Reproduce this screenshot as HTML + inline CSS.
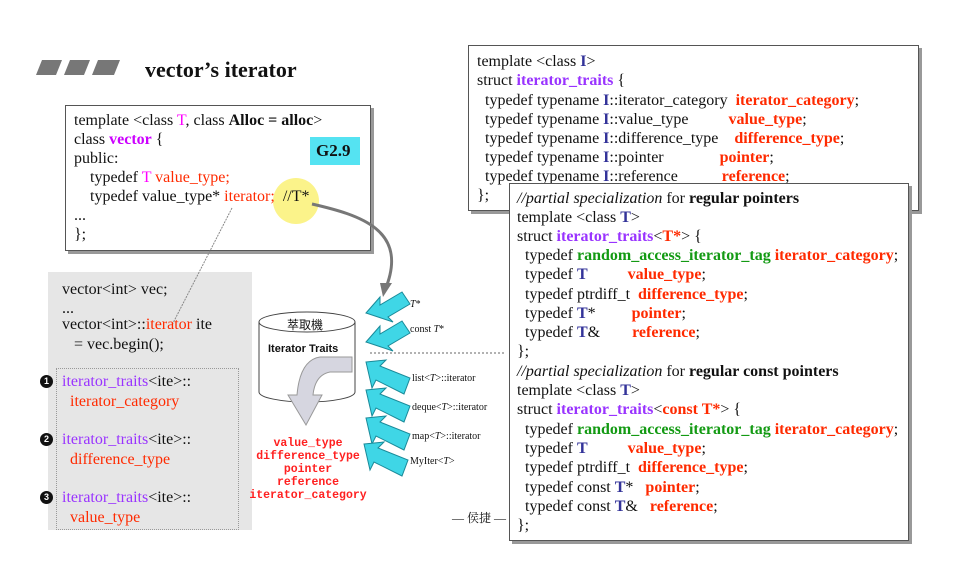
<!DOCTYPE html>
<html><head><meta charset="utf-8"><style>
body{margin:0;width:969px;height:575px;background:#fff;position:relative;overflow:hidden;font-family:"Liberation Serif",serif;font-size:16px;color:#111}
.a{position:absolute;white-space:pre;line-height:18px}
.box{position:absolute;border:1.5px solid #555;background:#fff;box-shadow:3px 3px 0 #999}
.p{color:#9933ff;font-weight:bold}.r{color:#ff2a00;font-weight:bold}.rn{color:#ff2a00}.b{color:#333399;font-weight:bold}.g{color:#139a13;font-weight:bold}.m{color:#ff00ff}.pu{color:#cc00ff;font-weight:bold}
.mono{font-family:"Liberation Mono",monospace;font-weight:bold;color:#ff2020;font-size:11.5px;line-height:13px;text-align:center}
.bul{display:inline-block;width:13px;height:13px;border-radius:50%;background:#111;color:#fff;font:bold 9px "Liberation Sans",sans-serif;text-align:center;line-height:13px;position:absolute}
</style></head><body>
<svg style="position:absolute;left:0;top:0" width="969" height="575">
<polygon points="42,60 62,60 56,75 36,75" fill="#777"/><polygon points="70,60 90,60 84,75 64,75" fill="#777"/><polygon points="98,60 120,60 114,75 92,75" fill="#777"/>
</svg>
<div class="a" style="left:145px;top:57px;font-size:22px;font-weight:bold;line-height:26px">vector’s iterator</div>

<div class="box" style="left:65px;top:105px;width:304px;height:144px"></div>
<div style="position:absolute;left:310px;top:137px;width:50px;height:28px;background:#55e3f2"></div>
<div class="a" style="left:316px;top:142px;font-size:17px;font-weight:bold">G2.9</div>
<div style="position:absolute;left:273px;top:178px;width:46px;height:46px;border-radius:50%;background:#fbf38a"></div>
<div class="a" style="left:74px;top:112px">template &lt;class <span class="m">T</span>, class <b>Alloc = alloc</b>&gt;</div>
<div class="a" style="left:74px;top:131px">class <span class="pu">vector</span> {</div>
<div class="a" style="left:74px;top:150px">public:</div>
<div class="a" style="left:90px;top:169px">typedef <span class="m">T</span> <span class="rn">value_type;</span></div>
<div class="a" style="left:90px;top:188px">typedef value_type* <span class="rn">iterator;</span>  //T*</div>
<div class="a" style="left:74px;top:207px">...</div>
<div class="a" style="left:74px;top:226px">};</div>

<div style="position:absolute;left:48px;top:272px;width:204px;height:258px;background:#e6e6e6"></div>
<div style="position:absolute;left:56px;top:368px;width:181px;height:160px;border:1px dotted #999"></div>
<svg style="position:absolute;left:0;top:0" width="969" height="575">
<line x1="232" y1="208" x2="172" y2="325" stroke="#888" stroke-width="1" stroke-dasharray="2,1"/>
</svg>
<div class="a" style="left:62px;top:281px">vector&lt;int&gt; vec;</div>
<div class="a" style="left:62px;top:300px">...</div>
<div class="a" style="left:62px;top:316px">vector&lt;int&gt;::<span class="rn">iterator</span> ite</div>
<div class="a" style="left:74px;top:336px">= vec.begin();</div>
<span class="bul" style="left:40px;top:375px">1</span><span class="bul" style="left:40px;top:433px">2</span><span class="bul" style="left:40px;top:491px">3</span>
<div class="a" style="left:62px;top:373px"><span style="color:#9933ff">iterator_traits</span>&lt;ite&gt;::</div>
<div class="a" style="left:70px;top:393px"><span class="rn">iterator_category</span></div>
<div class="a" style="left:62px;top:431px"><span style="color:#9933ff">iterator_traits</span>&lt;ite&gt;::</div>
<div class="a" style="left:70px;top:451px"><span class="rn">difference_type</span></div>
<div class="a" style="left:62px;top:489px"><span style="color:#9933ff">iterator_traits</span>&lt;ite&gt;::</div>
<div class="a" style="left:70px;top:509px"><span class="rn">value_type</span></div>

<svg style="position:absolute;left:0;top:0" width="969" height="575">
<path d="M259,322 L259,392 A48,10 0 0 0 355,392 L355,322" fill="#fff" stroke="#444"/>
<ellipse cx="307" cy="322" rx="48" ry="10" fill="#fff" stroke="#444"/>
<path d="M352,357 L320,357 Q300,360 297,395 L288,395 L306,425 L322,395 L313,395 Q315,375 330,372 L352,372 Z" fill="#d6d6e0" stroke="#999"/>
<line x1="370" y1="353" x2="505" y2="353" stroke="#666" stroke-dasharray="2,2"/>
<path d="M312,204 C360,215 410,230 385,290" fill="none" stroke="#777" stroke-width="3"/>
<polygon points="380,283 392,283 383,297" fill="#777"/>
<g fill="#3fd6e6" stroke="#1a8a99" stroke-width="1">
<polygon points="366,313 380,297 380,305 402,292 410,304 388,317 393,322"/>
<polygon points="366,342 380,326 380,334 402,321 410,333 388,346 393,351"/>
<polygon points="366,362 386,360 380,366 410,378 404,394 376,380 372,388"/>
<polygon points="366,390 386,388 380,394 410,406 404,422 376,408 372,416"/>
<polygon points="366,418 386,416 380,422 410,434 404,450 376,436 372,444"/>
<polygon points="364,444 384,442 378,448 408,460 402,476 374,462 370,470"/>
</g>
</svg>
<div class="a" style="left:287px;top:316px;font-family:'Noto Sans CJK TC',sans-serif;font-size:12px">萃取機</div>
<div class="a" style="left:268px;top:340px;font-family:'Liberation Sans',sans-serif;font-weight:bold;font-size:11px">Iterator Traits</div>
<div class="a mono" style="left:246px;top:437px;width:124px">value_type
difference_type
pointer
reference
iterator_category</div>
<div class="a" style="left:410px;top:296px;font-size:10px"><i>T</i>*</div>
<div class="a" style="left:410px;top:321px;font-size:10px">const <i>T</i>*</div>
<div class="a" style="left:412px;top:370px;font-size:10px">list&lt;<i>T</i>&gt;::iterator</div>
<div class="a" style="left:412px;top:399px;font-size:10px">deque&lt;<i>T</i>&gt;::iterator</div>
<div class="a" style="left:412px;top:428px;font-size:10px">map&lt;<i>T</i>&gt;::iterator</div>
<div class="a" style="left:410px;top:453px;font-size:10px">MyIter&lt;<i>T</i>&gt;</div>
<div class="a" style="left:452px;top:509px;font-size:12px;font-family:'Liberation Serif','Noto Serif CJK SC',serif">— 侯捷 —</div>

<div class="box" style="left:468px;top:45px;width:449px;height:164px"></div>
<div class="a" style="left:477px;top:53px">template &lt;class <span class="b">I</span>&gt;</div>
<div class="a" style="left:477px;top:72px">struct <span class="p">iterator_traits</span> {</div>
<div class="a" style="left:485px;top:92px">typedef typename <span class="b">I</span>::iterator_category  <span class="r">iterator_category</span>;</div>
<div class="a" style="left:485px;top:111px">typedef typename <span class="b">I</span>::value_type          <span class="r">value_type</span>;</div>
<div class="a" style="left:485px;top:130px">typedef typename <span class="b">I</span>::difference_type    <span class="r">difference_type</span>;</div>
<div class="a" style="left:485px;top:149px">typedef typename <span class="b">I</span>::pointer              <span class="r">pointer</span>;</div>
<div class="a" style="left:485px;top:168px">typedef typename <span class="b">I</span>::reference           <span class="r">reference</span>;</div>
<div class="a" style="left:477px;top:187px">};</div>

<div class="box" style="left:509px;top:183px;width:398px;height:356px"></div>
<div class="a" style="left:517px;top:190px"><i>//partial specialization</i> for <b>regular pointers</b></div>
<div class="a" style="left:517px;top:209px">template &lt;class <span class="b">T</span>&gt;</div>
<div class="a" style="left:517px;top:228px">struct <span class="p">iterator_traits</span>&lt;<span class="r">T*</span>&gt; {</div>
<div class="a" style="left:525px;top:247px">typedef <span class="g">random_access_iterator_tag</span> <span class="r">iterator_category</span>;</div>
<div class="a" style="left:525px;top:266px">typedef <span class="b">T</span>          <span class="r">value_type</span>;</div>
<div class="a" style="left:525px;top:286px">typedef ptrdiff_t  <span class="r">difference_type</span>;</div>
<div class="a" style="left:525px;top:305px">typedef <span class="b">T</span>*         <span class="r">pointer</span>;</div>
<div class="a" style="left:525px;top:324px">typedef <span class="b">T</span>&amp;        <span class="r">reference</span>;</div>
<div class="a" style="left:517px;top:343px">};</div>
<div class="a" style="left:517px;top:363px"><i>//partial specialization</i> for <b>regular const pointers</b></div>
<div class="a" style="left:517px;top:382px">template &lt;class <span class="b">T</span>&gt;</div>
<div class="a" style="left:517px;top:401px">struct <span class="p">iterator_traits</span>&lt;<span class="r">const T*</span>&gt; {</div>
<div class="a" style="left:525px;top:421px">typedef <span class="g">random_access_iterator_tag</span> <span class="r">iterator_category</span>;</div>
<div class="a" style="left:525px;top:440px">typedef <span class="b">T</span>          <span class="r">value_type</span>;</div>
<div class="a" style="left:525px;top:459px">typedef ptrdiff_t  <span class="r">difference_type</span>;</div>
<div class="a" style="left:525px;top:479px">typedef const <span class="b">T</span>*   <span class="r">pointer</span>;</div>
<div class="a" style="left:525px;top:498px">typedef const <span class="b">T</span>&amp;   <span class="r">reference</span>;</div>
<div class="a" style="left:517px;top:517px">};</div>
</body></html>
